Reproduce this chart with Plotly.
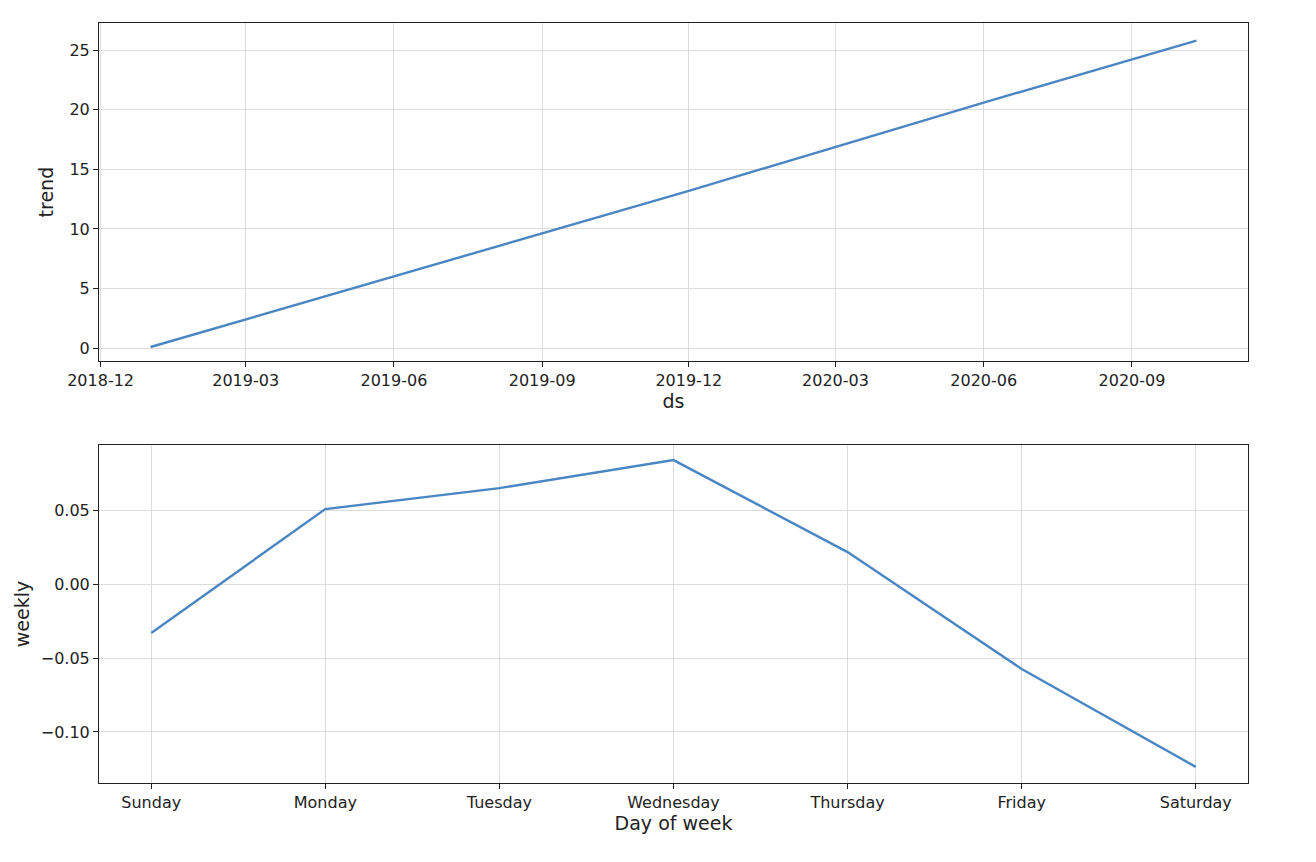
import plotly.graph_objects as go

# trend component
trend_dates = ["2019-01-01", "2019-06-01", "2019-12-01", "2020-06-01", "2020-10-11"]
trend_vals = [0.1, 6.0, 13.2, 20.6, 25.8]

# weekly component
days = ["Sunday", "Monday", "Tuesday", "Wednesday", "Thursday", "Friday", "Saturday"]
weekly_vals = [-0.0331, 0.0507, 0.0649, 0.0838, 0.0216, -0.0574, -0.1236]

LINE = "#4a86c4"
GRID = "#dcdcdc"
FONT = dict(family="DejaVu Sans", size=16, color="#222")

fig = go.Figure()
fig.add_trace(go.Scatter(x=trend_dates, y=trend_vals, mode="lines",
                         line=dict(color=LINE, width=2.4), xaxis="x", yaxis="y"))
fig.add_trace(go.Scatter(x=days, y=weekly_vals, mode="lines",
                         line=dict(color=LINE, width=2.4), xaxis="x2", yaxis="y2"))

ax = dict(showline=True, linecolor="#222", linewidth=1, mirror=True, ticks="outside",
          ticklen=5, tickcolor="#222", showgrid=True, gridcolor=GRID, zeroline=False,
          tickfont=dict(size=16))

fig.update_layout(
    width=1316, height=862, showlegend=False, font=FONT,
    plot_bgcolor="white", paper_bgcolor="white",
    margin=dict(l=91, r=76, t=15, b=87),
    xaxis=dict(ax, domain=[0, 1], anchor="y", type="date",
               range=["2018-11-30", "2020-11-12"], dtick="M3", tick0="2018-12-01",
               tickformat="%Y-%m", title=dict(text="ds", standoff=2)),
    yaxis=dict(ax, domain=[0.555, 1], anchor="x", range=[-1.09, 27.27],
               dtick=5, title=dict(text="trend", standoff=10)),
    xaxis2=dict(ax, domain=[0, 1], anchor="y2", range=[-0.3, 6.3],
                title=dict(text="Day of week", standoff=2)),
    yaxis2=dict(ax, domain=[0, 0.4447], anchor="x2", range=[-0.1345, 0.094],
                title=dict(text="weekly", standoff=6)),
)
fig.layout.yaxis2.tickvals = [-0.10, -0.05, 0.0, 0.05]
fig.layout.yaxis2.ticktext = ["\u22120.10", "\u22120.05", "0.00", "0.05"]

fig.write_html("out.html")
